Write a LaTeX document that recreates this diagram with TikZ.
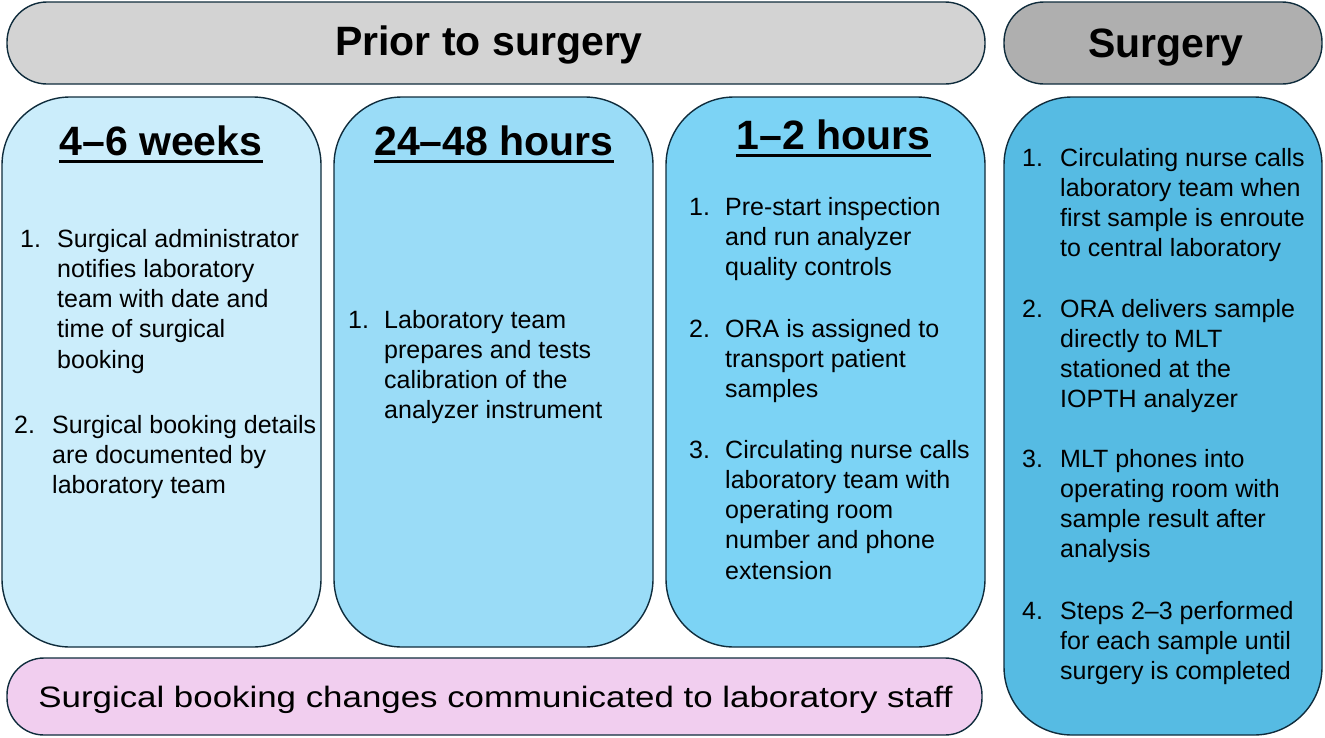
\documentclass[tikz,border=0pt]{standalone}
\usepackage{fontspec}
\usepackage{graphicx}
\setmainfont{Liberation Sans}
\definecolor{bordc}{HTML}{0F2C3C}
\definecolor{gA}{HTML}{D3D3D3}
\definecolor{gB}{HTML}{AFAFAF}
\definecolor{cA}{HTML}{CBEDFB}
\definecolor{cB}{HTML}{9ADCF7}
\definecolor{cC}{HTML}{7CD3F5}
\definecolor{cD}{HTML}{56BBE3}
\definecolor{pinkc}{HTML}{F1CEEF}
\tikzset{
  tbox/.style={draw=bordc, line width=1.4pt, rounded corners=40pt, inner sep=0pt},
  cbox/.style={draw=bordc, line width=1.4pt, rounded corners=68pt, inner sep=0pt},
  pbox/.style={draw=bordc, line width=1.4pt, rounded corners=37pt, inner sep=0pt},
  hdr/.style={font=\fontsize{41}{48}\selectfont\bfseries, inner sep=0pt, anchor=base},
  body/.style={font=\fontsize{25}{30.3}\selectfont, inner sep=0pt, anchor=base west, align=left},
  num/.style={font=\fontsize{25}{30.3}\selectfont, inner sep=0pt, anchor=base west},
  ptext/.style={font=\fontsize{29.5}{36}\selectfont, inner sep=0pt, anchor=base},
  uline/.style={line width=3pt, black}
}
\begin{document}
\begin{tikzpicture}[x=1pt,y=-1pt]
\useasboundingbox (0,0) rectangle (1325,737);
% top bars
\node[tbox, fill=gA, minimum width=978pt, minimum height=82pt] (prior) at (496,43) {};
\node[tbox, fill=gB, minimum width=318pt, minimum height=82pt] (surg) at (1163,43) {};
\node[hdr] (tprior) at (489,55) {Prior to surgery};
\node[hdr] (tsurg) at (1165.5,57) {Surgery};
% columns
\node[cbox, fill=cA, minimum width=319pt, minimum height=550pt] (col1) at (161.5,372) {};
\node[cbox, fill=cB, minimum width=319pt, minimum height=550pt] (col2) at (493.5,372) {};
\node[cbox, fill=cC, minimum width=319pt, minimum height=550pt] (col3) at (825.5,372) {};
\node[cbox, fill=cD, minimum width=318pt, minimum height=638pt] (col4) at (1163,416) {};
\node[pbox, fill=pinkc, minimum width=975pt, minimum height=77pt] (pink) at (494.5,696.5) {};
% headers
\node[hdr] (h1) at (161,155) {4–6 weeks};
\node[hdr] (h2) at (494,155) {24–48 hours};
\node[hdr] (h3) at (833.5,149) {1–2 hours};
\draw[uline] ([yshift=-6.5pt]h1.base west) -- ([yshift=-6.5pt]h1.base east);
\draw[uline] ([yshift=-6.5pt]h2.base west) -- ([yshift=-6.5pt]h2.base east);
\draw[uline] ([yshift=-6.5pt]h3.base west) -- ([yshift=-6.5pt]h3.base east);
% column 1 (text nodes anchored at the baseline of their last line)
\node[num] (n11) at (20,247) {1.};
\node[body] (t11) at (57,368.2) {Surgical administrator\\notifies laboratory\\team with date and\\time of surgical\\booking};
\node[num] (n12) at (14,433) {2.};
\node[body] (t12) at (52,493.6) {Surgical booking details\\are documented by\\laboratory team};
% column 2
\node[num] (n21) at (348,328) {1.};
\node[body] (t21) at (384,418.9) {Laboratory team\\prepares and tests\\calibration of the\\analyzer instrument};
% column 3
\node[num] (n31) at (689,215) {1.};
\node[body] (t31) at (725,275.6) {Pre-start inspection\\and run analyzer\\quality controls};
\node[num] (n32) at (689,337) {2.};
\node[body] (t32) at (725,397.6) {ORA is assigned to\\transport patient\\samples};
\node[num] (n33) at (689,458) {3.};
\node[body] (t33) at (725,579.2) {Circulating nurse calls\\laboratory team with\\operating room\\number and phone\\extension};
% column 4
\node[num] (n41) at (1022,166) {1.};
\node[body] (t41) at (1060,256.9) {Circulating nurse calls\\laboratory team when\\first sample is enroute\\to central laboratory};
\node[num] (n42) at (1022,317) {2.};
\node[body] (t42) at (1060,407.9) {ORA delivers sample\\directly to MLT\\stationed at the\\IOPTH analyzer};
\node[num] (n43) at (1022,467) {3.};
\node[body] (t43) at (1060,557.9) {MLT phones into\\operating room with\\sample result after\\analysis};
\node[num] (n44) at (1022,619) {4.};
\node[body] (t44) at (1060,679.6) {Steps 2–3 performed\\for each sample until\\surgery is completed};
% pink text
\node[ptext] (pt) at (495.5,707) {\scalebox{1.182}[1]{Surgical booking changes communicated to laboratory staff}};
\end{tikzpicture}
\end{document}
